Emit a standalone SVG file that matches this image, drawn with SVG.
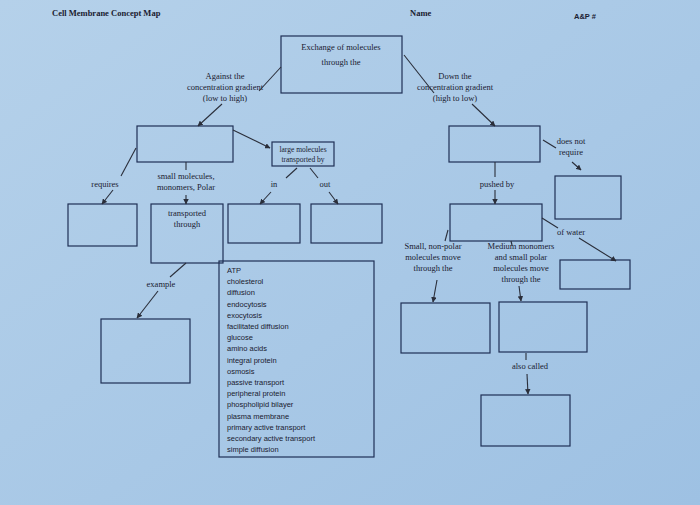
<svg xmlns="http://www.w3.org/2000/svg" width="700" height="505" viewBox="0 0 700 505">
<defs>
<marker id="ah" viewBox="0 0 10 10" refX="9" refY="5" markerWidth="5" markerHeight="5" orient="auto"><path d="M0,0L10,5L0,10z" fill="#2a2e3a"/></marker>
<linearGradient id="bg" x1="0" y1="0" x2="1" y2="1"><stop offset="0" stop-color="#b5d1ea"/><stop offset="1" stop-color="#9ec1e3"/></linearGradient>
</defs>
<style>
.b{fill:none;stroke:#1f2f55;stroke-width:1.2}
.t{font-family:"Liberation Serif",serif;font-size:8.5px;fill:#1a2030;text-anchor:middle}
.s{font-family:"Liberation Sans",sans-serif;font-size:7.5px;fill:#1a2030}
.c line{stroke:#2a2e3a;stroke-width:1.1}
.a{marker-end:url(#ah)}
</style>
<rect width="700" height="505" fill="url(#bg)"/>
<text x="52" y="16" class="t" style="text-anchor:start;font-weight:bold">Cell Membrane Concept Map</text>
<text x="410" y="16" class="t" style="text-anchor:start;font-weight:bold">Name</text>
<text x="574" y="19" class="s" style="font-weight:bold">A&amp;P #</text>
<g id="top"><rect class="b" x="281" y="36" width="121" height="57"/><text class="t" x="341" y="50">Exchange of molecules</text><text class="t" x="341" y="65">through the</text></g>
<g id="leftmid"><rect class="b" x="137" y="126" width="96" height="36"/></g>
<g id="large"><rect class="b" x="272" y="142" width="62" height="24"/><text class="t" x="303" y="151.5" style="font-size:7.5px">large molecules</text><text class="t" x="303" y="162" style="font-size:7.5px">transported by</text></g>
<g id="rightmid"><rect class="b" x="449" y="126" width="91" height="36"/></g>
<g id="notreq"><rect class="b" x="555" y="176" width="66" height="43"/></g>
<g id="pushed"><rect class="b" x="450" y="204" width="92" height="37"/></g>
<g id="req"><rect class="b" x="68" y="204" width="69" height="42"/></g>
<g id="trans"><rect class="b" x="151" y="204" width="72" height="59"/><text class="t" x="187" y="216">transported</text><text class="t" x="187" y="227">through</text></g>
<g id="in"><rect class="b" x="228" y="204" width="72" height="39"/></g>
<g id="out"><rect class="b" x="311" y="204" width="71" height="39"/></g>
<g id="example"><rect class="b" x="101" y="319" width="89" height="64"/></g>
<g id="list"><rect class="b" x="219" y="261" width="155" height="196"/>
<g class="s">
<text x="227" y="273">ATP</text><text x="227" y="284.2">cholesterol</text><text x="227" y="295.4">diffusion</text><text x="227" y="306.6">endocytosis</text><text x="227" y="317.8">exocytosis</text><text x="227" y="329">facilitated diffusion</text><text x="227" y="340.2">glucose</text><text x="227" y="351.4">amino acids</text><text x="227" y="362.6">integral protein</text><text x="227" y="373.8">osmosis</text><text x="227" y="385">passive transport</text><text x="227" y="396.2">peripheral protein</text><text x="227" y="407.4">phospholipid bilayer</text><text x="227" y="418.6">plasma membrane</text><text x="227" y="429.8">primary active transport</text><text x="227" y="441">secondary active transport</text><text x="227" y="452.2">simple diffusion</text>
</g></g>
<g id="water"><rect class="b" x="560" y="260" width="70" height="29"/></g>
<g id="nonpolar"><rect class="b" x="401" y="303" width="89" height="50"/></g>
<g id="medium"><rect class="b" x="499" y="302" width="88" height="50"/></g>
<g id="alsocalled"><rect class="b" x="481" y="395" width="89" height="51"/></g>
<g id="labels">
<text class="t" x="225" y="79">Against the</text><text class="t" x="225" y="90">concentration gradient</text><text class="t" x="225" y="101">(low to high)</text>
<text class="t" x="455" y="79">Down the</text><text class="t" x="455" y="90">concentration gradient</text><text class="t" x="455" y="101">(high to low)</text>
<text class="t" x="105" y="187">requires</text>
<text class="t" x="186" y="179">small molecules,</text><text class="t" x="186" y="190">monomers, Polar</text>
<text class="t" x="274" y="187">in</text><text class="t" x="325" y="187">out</text>
<text class="t" x="497" y="187">pushed by</text>
<text class="t" x="571" y="144">does not</text><text class="t" x="571" y="155">require</text>
<text class="t" x="571" y="235">of water</text>
<text class="t" x="433" y="249">Small, non-polar</text><text class="t" x="433" y="260">molecules move</text><text class="t" x="433" y="271">through the</text>
<text class="t" x="521" y="249">Medium monomers</text><text class="t" x="521" y="260">and small polar</text><text class="t" x="521" y="271">molecules move</text><text class="t" x="521" y="282">through the</text>
<text class="t" x="161" y="287">example</text>
<text class="t" x="530" y="369">also called</text>
</g>
<g id="connectors" class="c">
<line x1="281" y1="67" x2="259" y2="91"/>
<line x1="404" y1="55" x2="434" y2="93"/>
<line class="a" x1="222" y1="104" x2="198" y2="126"/>
<line class="a" x1="472" y1="104" x2="495" y2="126"/>
<line class="a" x1="233" y1="130" x2="270" y2="148"/>
<line x1="136" y1="148" x2="121" y2="176"/><line class="a" x1="113" y1="190" x2="102" y2="204"/>
<line x1="186" y1="162" x2="186" y2="170"/><line class="a" x1="186" y1="195" x2="186" y2="204"/>
<line x1="297" y1="168" x2="286" y2="178"/><line class="a" x1="271" y1="192" x2="260" y2="204"/>
<line x1="310" y1="168" x2="318" y2="178"/><line class="a" x1="329" y1="192" x2="338" y2="204"/>
<line x1="495" y1="162" x2="495" y2="177"/><line class="a" x1="495" y1="190" x2="495" y2="204"/>
<line x1="543" y1="140" x2="556" y2="148"/><line class="a" x1="572" y1="162" x2="581" y2="170"/>
<line x1="542" y1="218" x2="558" y2="228"/><line class="a" x1="579" y1="238" x2="616" y2="261"/>
<line x1="448" y1="230" x2="445" y2="241"/><line class="a" x1="437" y1="280" x2="433" y2="302"/>
<line x1="511" y1="241" x2="512" y2="245"/><line class="a" x1="519" y1="286" x2="521" y2="301"/>
<line x1="526" y1="353" x2="526" y2="360"/><line class="a" x1="527" y1="374" x2="528" y2="394"/>
<line x1="186" y1="263" x2="170" y2="277"/><line class="a" x1="158" y1="291" x2="137" y2="318"/>
</g>
</svg>
